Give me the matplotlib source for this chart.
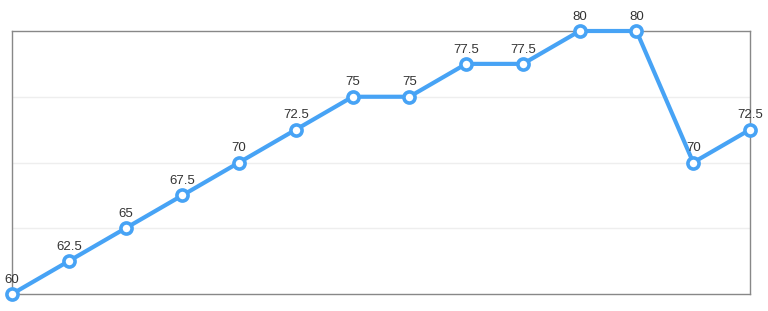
import matplotlib
matplotlib.use("Agg")
import matplotlib.pyplot as plt

# data
values = [60, 62.5, 65, 67.5, 70, 72.5, 75, 75, 77.5, 77.5, 80, 80, 70, 72.5]
labels = ["60", "62.5", "65", "67.5", "70", "72.5", "75", "75",
          "77.5", "77.5", "80", "80", "70", "72.5"]
grid_vals = [65, 70, 75]

plt.rcParams['font.family'] = ['Liberation Sans', 'DejaVu Sans']

fig = plt.figure(figsize=(7.68, 3.11), dpi=100)
ax = fig.add_axes([12 / 768, 17 / 311, 738 / 768, 263 / 311])

x = list(range(len(values)))
ax.plot(x, values, color="#47a3f5", lw=3, marker="o", ms=8,
        mfc="white", mec="#47a3f5", mew=2.6, zorder=3, clip_on=False)

for xi, v, lab in zip(x, values, labels):
    ax.annotate(lab, (xi, v), xytext=(0, 6), textcoords="offset points",
                ha="center", va="bottom", fontsize=9.5, color="#333333")

for g in grid_vals:
    ax.axhline(g, color="#eeeeee", lw=1, zorder=1)

ax.set_xlim(0, len(values) - 1)
ax.set_ylim(60, 80)
ax.set_xticks([])
ax.set_yticks([])
for s in ax.spines.values():
    s.set_color("#888888")
    s.set_linewidth(1)

fig.savefig("out.png", dpi=100)
